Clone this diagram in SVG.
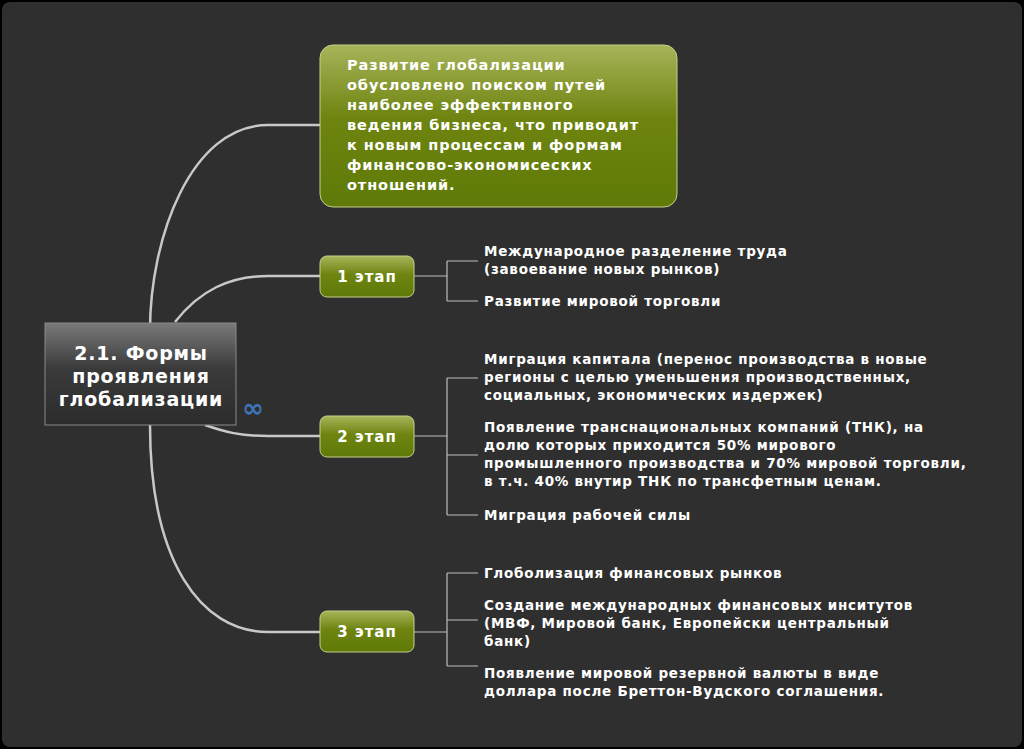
<svg xmlns="http://www.w3.org/2000/svg" width="1024" height="749" viewBox="0 0 1024 749">
<defs>
<linearGradient id="g" x1="0" y1="0" x2="0" y2="1"><stop offset="0" stop-color="#a8b45a"/><stop offset="0.45" stop-color="#6e8410"/><stop offset="1" stop-color="#5f7a08"/></linearGradient>
<linearGradient id="c" x1="0" y1="0" x2="0" y2="1"><stop offset="0" stop-color="#7a7a7a"/><stop offset="0.45" stop-color="#3a3a3a"/><stop offset="1" stop-color="#2c2c2c"/></linearGradient>
<style>
.t{font-family:"DejaVu Sans",Verdana,sans-serif;font-weight:bold;fill:#fff}
.s{font-size:13.5px;letter-spacing:0.75px}
.l{fill:none;stroke:#c8c8c8;stroke-width:2.5}
.b{fill:none;stroke:#bdbdbd;stroke-width:1.2}
.g{fill:url(#g);stroke:#c5cf8a;stroke-width:1}
</style>
</defs>
<rect width="1024" height="749" fill="#000"/>
<rect x="2" y="2" width="1020" height="745" rx="8" fill="#2f2f2f"/>
<g id="connectors">
<path class="l" d="M320,125 L268,125 C190,125 150,240 150,330 M150,425 C150,560 200,632 268,632 L320,632"/>
<path class="l" d="M175,322 C200,290 230,276 268,276 L320,276"/>
<path class="l" d="M205,425 C225,432 240,436 268,436 L320,436"/>
<path class="b" d="M414,276 H447 M447,261 V301 M447,261 H478 M447,301 H478"/>
<path class="b" d="M414,436 H447 M447,378 V515 M447,378 H478 M447,455 H478 M447,515 H478"/>
<path class="b" d="M414,632 H447 M447,573 V666 M447,573 H478 M447,620 H478 M447,666 H478"/>
</g>
<g id="center">
<rect x="45" y="323" width="191" height="102" fill="url(#c)" stroke="#8a8a8a"/>
<text class="t" font-size="19" letter-spacing="0.8" text-anchor="middle" x="141"><tspan x="141" y="360">2.1. Формы</tspan><tspan x="141" y="383">проявления</tspan><tspan x="141" y="406">глобализации</tspan></text>
<text x="253" y="417" font-family="DejaVu Sans,sans-serif" font-weight="bold" font-size="26" fill="#3d75b8" text-anchor="middle">∞</text>
</g>
<g id="top">
<rect class="g" x="320" y="45" width="357" height="162" rx="13"/>
<text class="t" font-size="14.5" letter-spacing="0.9"><tspan x="347" y="70">Развитие глобализации</tspan><tspan x="347" y="90">обусловлено поиском путей</tspan><tspan x="347" y="110">наиболее эффективного</tspan><tspan x="347" y="130">ведения бизнеса, что приводит</tspan><tspan x="347" y="150">к новым процессам и формам</tspan><tspan x="347" y="170">финансово-экономисеских</tspan><tspan x="347" y="190">отношений.</tspan></text>
</g>
<g id="stage1">
<rect class="g" x="320" y="256" width="94" height="41" rx="7"/>
<text class="t" font-size="15" letter-spacing="1" x="367" y="282" text-anchor="middle">1 этап</text>
</g>
<g id="stage2">
<rect class="g" x="320" y="416" width="94" height="41" rx="7"/>
<text class="t" font-size="15" letter-spacing="1" x="367" y="442" text-anchor="middle">2 этап</text>
</g>
<g id="stage3">
<rect class="g" x="320" y="611" width="94" height="41" rx="7"/>
<text class="t" font-size="15" letter-spacing="1" x="367" y="637" text-anchor="middle">3 этап</text>
</g>
<g id="leaves1">
<text class="t s"><tspan x="484" y="256">Международное разделение труда</tspan><tspan x="484" y="274">(завоевание новых рынков)</tspan></text>
<text class="t s" x="484" y="306">Развитие мировой торговли</text>
</g>
<g id="leaves2">
<text class="t s"><tspan x="484" y="364">Миграция капитала (перенос производства в новые</tspan><tspan x="484" y="382">регионы с целью уменьшения производственных,</tspan><tspan x="484" y="400">социальных, экономических издержек)</tspan></text>
<text class="t s"><tspan x="484" y="432">Появление транснациональных компаний (ТНК), на</tspan><tspan x="484" y="450">долю которых приходится 50% мирового</tspan><tspan x="484" y="468">промышленного производства и 70% мировой торговли,</tspan><tspan x="484" y="486">в т.ч. 40% внутир ТНК по трансфетным ценам.</tspan></text>
<text class="t s" x="484" y="520">Миграция рабочей силы</text>
</g>
<g id="leaves3">
<text class="t s" x="484" y="578">Глоболизация финансовых рынков</text>
<text class="t s"><tspan x="484" y="610">Создание международных финансовых инситутов</tspan><tspan x="484" y="628">(МВФ, Мировой банк, Европейски центральный</tspan><tspan x="484" y="646">банк)</tspan></text>
<text class="t s"><tspan x="484" y="678">Появление мировой резервной валюты в виде</tspan><tspan x="484" y="696">доллара после Бреттон-Вудского соглашения.</tspan></text>
</g>
</svg>
